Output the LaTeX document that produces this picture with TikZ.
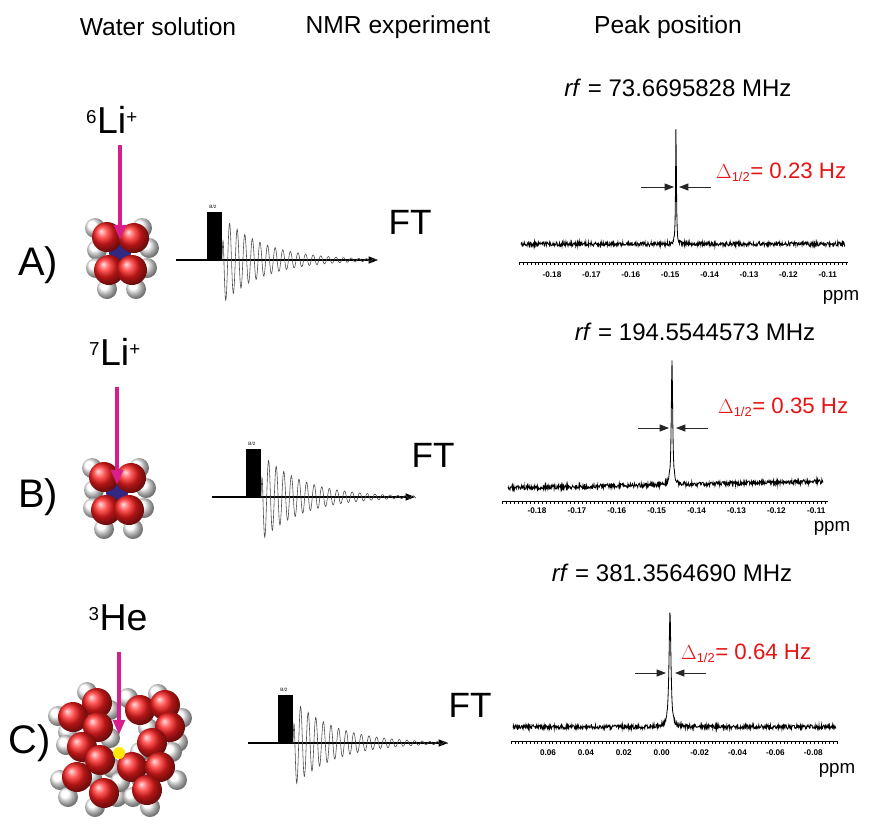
\documentclass[tikz,border=0pt]{standalone}
\usepackage{fontspec}
\setmainfont{Liberation Sans}
\usetikzlibrary{arrows.meta}
\definecolor{mag}{RGB}{214,30,140}
\definecolor{ored}{RGB}{255,30,30}
\definecolor{lired}{RGB}{230,20,20}
\definecolor{liblue}{RGB}{50,40,130}
\tikzset{
  hdr/.style={font=\fontsize{21}{24}\selectfont},
  lab/.style={font=\fontsize{34}{38}\selectfont},
  ion/.style={font=\fontsize{32}{36}\selectfont},
  ftl/.style={font=\fontsize{30}{34}\selectfont},
  rfl/.style={font=\fontsize{20.5}{24}\selectfont},
  dl/.style={font=\fontsize{19}{22}\selectfont, text=lired, anchor=west},
  tick/.style={font=\fontsize{7}{8}\selectfont\bfseries},
  ppml/.style={font=\fontsize{16}{19}\selectfont},
  marrow/.style={draw=mag, line width=3.2pt, -{Triangle[length=13pt,width=10pt]}},
  harrow/.style={draw=black!85, line width=0.8pt, -{Triangle[length=8pt,width=6pt]}},
  axarrow/.style={draw=black, line width=0.9pt, -{Triangle[length=8pt,width=6pt]}},
}
\newcommand{\Oat}[2]{\shade[ball color=ored] (#1,#2) circle (15);}
\newcommand{\Hat}[2]{\shade[ball color=white] (#1,#2) circle (10);}
\newcommand{\FID}[2]{% x0 pulse-left, baseline y
  \fill[black] (#1,#2) rectangle ++(15,-48);
  \node[font=\fontsize{4}{5}\selectfont] at (#1+6,#2-53) {B/2};
  \draw[black!70, line width=0.5pt] plot[domain=0:155, samples=500] ({#1+15+\x},{#2-44*exp(-\x/42)*cos(\x/7.6*360)*min(1,\x/1.5)});
}
\begin{document}
\begin{tikzpicture}[x=0.03cm,y=-0.03cm]
\useasboundingbox (0,0) rectangle (889,828);
\fill[white] (0,0) rectangle (889,828);
% headers
\node[hdr] (h1) at (158,27) {Water solution};
\node[hdr] (h2) at (398,27) {NMR experiment};
\node[hdr] (h3) at (668,27) {Peak position};
% row labels
\node[lab] (la) at (38,265) {A)};
\node[lab] (lb) at (38,497) {B)};
\node[lab] (lc) at (30,743) {C)};
% ions
\node[ion] (ia) at (112,120) {$^{\textrm{\fontsize{16}{18}\selectfont 6}}$Li$^{\textrm{\fontsize{16}{18}\selectfont +}}$};
\node[ion] (ib) at (115,352) {$^{\textrm{\fontsize{16}{18}\selectfont 7}}$Li$^{\textrm{\fontsize{16}{18}\selectfont +}}$};
\node[ion] (ic) at (118,618) {$^{\textrm{\fontsize{16}{18}\selectfont 3}}$He};
% molecule A
\begin{scope}
\Hat{95}{228}\Hat{97}{250}\Hat{142}{228}\Hat{149}{248}\Hat{96}{268}\Hat{107}{289}\Hat{147}{268}\Hat{136}{289}
\fill[liblue] (120,253) circle (11);
\Oat{107}{237}\Oat{134}{238}\Oat{109}{270}\Oat{132}{270}
\end{scope}
% molecule B
\begin{scope}[shift={(-3,240)}]
\Hat{95}{228}\Hat{97}{250}\Hat{142}{228}\Hat{149}{248}\Hat{96}{268}\Hat{107}{289}\Hat{147}{268}\Hat{136}{289}
\fill[liblue] (120,253) circle (11);
\Oat{107}{237}\Oat{134}{238}\Oat{109}{270}\Oat{132}{270}
\end{scope}
% molecule C
\Hat{87}{692}\Hat{110}{710}\Hat{58}{716}\Hat{68}{732}\Hat{86}{733}\Hat{110}{738}
\Hat{66}{745}\Hat{92}{760}\Hat{112}{768}\Hat{92}{777}\Hat{60}{780}\Hat{68}{797}
\Hat{95}{807}\Hat{117}{797}\Hat{128}{698}\Hat{158}{694}\Hat{182}{718}\Hat{178}{742}
\Hat{148}{728}\Hat{140}{752}\Hat{120}{782}\Hat{140}{777}\Hat{172}{752}\Hat{177}{780}\Hat{150}{807}\Hat{133}{797}
\Oat{97}{703}\Oat{73}{717}\Oat{98}{727}\Oat{82}{747}\Oat{100}{760}\Oat{77}{777}\Oat{104}{793}
\Oat{140}{710}\Oat{165}{705}\Oat{170}{727}\Oat{152}{743}\Oat{132}{767}\Oat{160}{767}\Oat{147}{790}
\fill[yellow!90!orange] (119,753) circle (6);
% magenta arrows
\coordinate (aa1) at (120,145); \coordinate (aa2) at (120,240);
\coordinate (ab1) at (117,387); \coordinate (ab2) at (117,485);
\coordinate (ac1) at (119,652); \coordinate (ac2) at (119,735);
\draw[marrow] (aa1) -- (aa2);
\draw[marrow] (ab1) -- (ab2);
\draw[marrow] (ac1) -- (ac2);
% FIDs
\coordinate (fa1) at (176,260); \coordinate (fa2) at (378,260);
\coordinate (fb1) at (212,497); \coordinate (fb2) at (415,497);
\coordinate (fc1) at (248,743); \coordinate (fc2) at (448,743);
\draw[axarrow] (fa1) -- (fa2);
\draw[axarrow] (fb1) -- (fb2);
\draw[axarrow] (fc1) -- (fc2);
\FID{207}{260}
\FID{246}{497}
\FID{278}{743}
% FT
\node[ftl] (fta) at (410,222) {FT};
\node[ftl] (ftb) at (433,455) {FT};
\node[ftl] (ftc) at (470,705) {FT};
% rf labels
\node[rfl] (ra) at (678,88) {\textit{rf} = 73.6695828 MHz};
\node[rfl] (rb) at (695,332) {\textit{rf} = 194.5544573 MHz};
\node[rfl] (rc) at (672,573) {\textit{rf} = 381.3564690 MHz};
% spectrum A
\pgfmathsetseed{7}
\draw[line width=0.7pt] plot[domain=521:845, samples=800] (\x,{244+2.2*rand-120/(1+(min(abs(\x-676),40)/0.45)^2)});
\draw[line width=0.6pt] (519,262) -- (848,262);
\foreach \i in {0,...,83} \draw[line width=0.4pt] (519+\i*3.94,262) -- ++(0,3);
\foreach \v [count=\k from 0] in {-0.18,-0.17,-0.16,-0.15,-0.14,-0.13,-0.12,-0.11}
  \node[tick] at (552+\k*39.4,275) {\v};
\node[ppml] (pa) at (841,297) {ppm};
\coordinate (da1) at (641,187); \coordinate (da2) at (674,187);
\coordinate (da3) at (711,187); \coordinate (da4) at (679,187);
\draw[harrow] (da1) -- (da2); \draw[harrow] (da3) -- (da4);
\node[dl] (dla) at (712,172) {$\Delta$\textsubscript{\fontsize{11}{12}\selectfont 1/2}= 0.23 Hz};
% spectrum B
\draw[line width=0.7pt] plot[domain=508:823, samples=800] (\x,{488-0.02*(\x-508)+2.2*rand-125/(1+(min(abs(\x-672),40)/0.8)^2)});
\draw[line width=0.6pt] (502,501) -- (828,501);
\foreach \i in {0,...,81} \draw[line width=0.4pt] (502+\i*3.99,501) -- ++(0,3);
\foreach \v [count=\k from 0] in {-0.18,-0.17,-0.16,-0.15,-0.14,-0.13,-0.12,-0.11}
  \node[tick] at (537+\k*39.9,511) {\v};
\node[ppml] (pb) at (832,528) {ppm};
\coordinate (db1) at (638,428); \coordinate (db2) at (669,428);
\coordinate (db3) at (708,428); \coordinate (db4) at (676,428);
\draw[harrow] (db1) -- (db2); \draw[harrow] (db3) -- (db4);
\node[dl] (dlb) at (714,407) {$\Delta$\textsubscript{\fontsize{11}{12}\selectfont 1/2}= 0.35 Hz};
% spectrum C
\draw[line width=0.7pt] plot[domain=513:836, samples=800] (\x,{727+2.2*rand-118/(1+(min(abs(\x-670),40)/1.1)^2)});
\draw[line width=0.6pt] (511,741) -- (838,741);
\foreach \i in {0,...,86} \draw[line width=0.4pt] (511+\i*3.79,741) -- ++(0,3);
\foreach \v [count=\k from 0] in {0.06,0.04,0.02,0.00,-0.02,-0.04,-0.06,-0.08}
  \node[tick] at (548+\k*37.9,753) {\v};
\node[ppml] (pc) at (837,770) {ppm};
\coordinate (dc1) at (635,673); \coordinate (dc2) at (666,673);
\coordinate (dc3) at (706,673); \coordinate (dc4) at (675,673);
\draw[harrow] (dc1) -- (dc2); \draw[harrow] (dc3) -- (dc4);
\node[dl] (dlc) at (677,653) {$\Delta$\textsubscript{\fontsize{11}{12}\selectfont 1/2}= 0.64 Hz};
\end{tikzpicture}
\end{document}
